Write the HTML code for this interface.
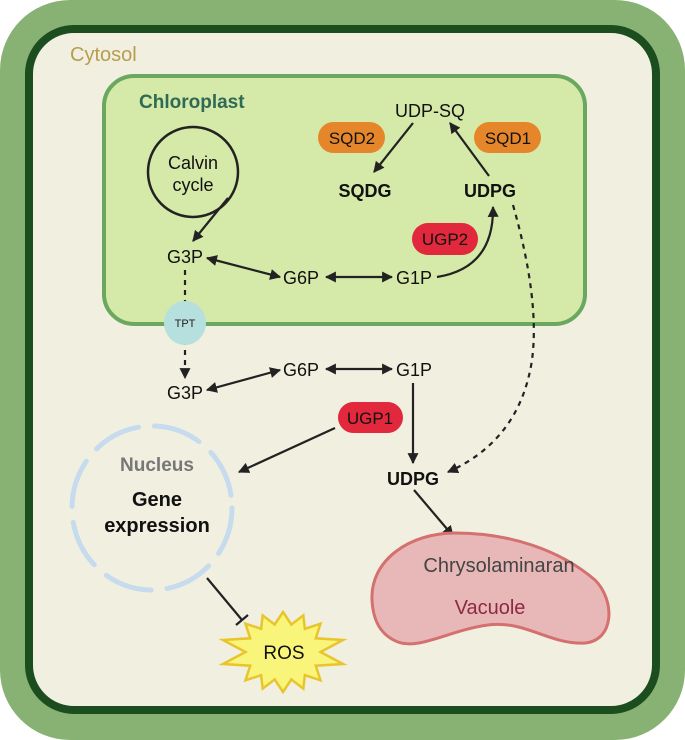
<!DOCTYPE html>
<html><head><meta charset="utf-8"><style>
html,body{margin:0;padding:0;background:#fff}
svg{display:block}
text{font-family:"Liberation Sans",sans-serif}
</style></head><body>
<svg width="685" height="740" viewBox="0 0 685 740" xmlns="http://www.w3.org/2000/svg">
<defs>
<marker id="a" viewBox="0 0 10 10" refX="9" refY="5" markerWidth="5" markerHeight="5" orient="auto-start-reverse"><path d="M0,0L10,5L0,10z" fill="#222"/></marker>
</defs>
<rect x="0" y="0" width="685" height="740" rx="70" fill="#88b273"/>
<rect x="29" y="29" width="627" height="681" rx="45" fill="#f1efe0" stroke="#1b4d1f" stroke-width="8"/>
<text x="70" y="61" font-size="20" fill="#b89c50">Cytosol</text>
<rect x="104" y="76" width="481" height="248" rx="30" fill="#d5e9a8" stroke="#6aa860" stroke-width="4"/>
<text x="139" y="108" font-size="19" font-weight="bold" fill="#2f6a55">Chloroplast</text>
<circle cx="193" cy="172" r="45" fill="none" stroke="#222" stroke-width="2.5"/>
<g font-size="18" text-anchor="middle" fill="#111">
<text x="193" y="169">Calvin</text><text x="193" y="191">cycle</text>
<text x="185" y="263">G3P</text>
<text x="301" y="284">G6P</text>
<text x="414" y="284">G1P</text>
<text x="430" y="117">UDP-SQ</text>
<text x="365" y="197" font-weight="bold">SQDG</text>
<text x="490" y="197" font-weight="bold">UDPG</text>
<text x="301" y="376">G6P</text>
<text x="414" y="376">G1P</text>
<text x="185" y="399">G3P</text>
<text x="413" y="485" font-weight="bold">UDPG</text>
</g>
<rect x="318" y="122" width="67" height="31" rx="15.5" fill="#e6862a"/>
<rect x="474" y="122" width="67" height="31" rx="15.5" fill="#e6862a"/>
<rect x="412" y="223" width="66" height="32" rx="16" fill="#e2283c"/>
<rect x="338" y="402" width="65" height="31" rx="15.5" fill="#e2283c"/>
<g font-size="17" text-anchor="middle" fill="#111">
<text x="352" y="144">SQD2</text><text x="508" y="144">SQD1</text>
<text x="445" y="245">UGP2</text><text x="370" y="424">UGP1</text>
</g>
<g stroke="#222" stroke-width="2.2" fill="none">
<path d="M228,198L193,241" marker-end="url(#a)"/>
<path d="M207,258L280,277" marker-start="url(#a)" marker-end="url(#a)"/>
<path d="M326,277L392,277" marker-start="url(#a)" marker-end="url(#a)"/>
<path d="M437,277Q494,268 493,207" marker-end="url(#a)"/>
<path d="M489,176L450,123" marker-end="url(#a)"/>
<path d="M413,123L374,172" marker-end="url(#a)"/>
<path d="M185,270L185,378" stroke-dasharray="5,5" marker-end="url(#a)"/>
<path d="M207,390L280,370" marker-start="url(#a)" marker-end="url(#a)"/>
<path d="M326,369L392,369" marker-start="url(#a)" marker-end="url(#a)"/>
<path d="M413,383L413,463" marker-end="url(#a)"/>
<path d="M335,428L239,472" marker-end="url(#a)"/>
<path d="M513,205Q540,300 532,360Q520,440 448,472" stroke-dasharray="5,5" marker-end="url(#a)"/>
<path d="M414,490L453,536" marker-end="url(#a)"/>
<path d="M207,578L242,620M236,625L248,615"/>
</g>
<ellipse cx="185" cy="323" rx="21" ry="22" fill="#b6e0de"/>
<text x="185" y="327" font-size="11" text-anchor="middle" fill="#222">TPT</text>
<ellipse cx="152" cy="508" rx="80" ry="82" fill="none" stroke="#c6dcee" stroke-width="5" stroke-linecap="round" stroke-dasharray="48,16"/>
<text x="157" y="471" font-size="19" font-weight="bold" text-anchor="middle" fill="#777">Nucleus</text>
<text x="157" y="506" font-size="20" font-weight="bold" text-anchor="middle" fill="#111">Gene</text>
<text x="157" y="532" font-size="20" font-weight="bold" text-anchor="middle" fill="#111">expression</text>
<path d="M372,600C370,560 410,533 455,533C510,533 560,550 595,580C615,600 615,640 585,643C550,645 525,620 488,625C450,630 420,650 398,642C380,635 373,620 372,600Z" fill="#e8b8b8" stroke="#d4706e" stroke-width="3"/>
<text x="499" y="572" font-size="20" text-anchor="middle" fill="#444">Chrysolaminaran</text>
<text x="490" y="614" font-size="20" text-anchor="middle" fill="#8b2a42">Vacuole</text>
<polygon fill="#f9f57a" stroke="#e8c52a" stroke-width="2.5" points="283.0,612.0 291.3,624.6 303.3,615.4 304.9,628.8 320.5,623.7 315.8,638.3 343.0,640.0 320.5,652.0 343.0,664.0 315.8,665.7 320.5,680.3 304.9,675.2 303.3,688.6 291.3,679.4 283.0,692.0 274.7,679.4 262.7,688.6 261.1,675.2 245.5,680.3 250.2,665.7 223.0,664.0 245.5,652.0 223.0,640.0 250.2,638.3 245.5,623.7 261.1,628.8 262.7,615.4 274.7,624.6"/>
<text x="284" y="659" font-size="19" text-anchor="middle" fill="#111">ROS</text>
</svg>
</body></html>
